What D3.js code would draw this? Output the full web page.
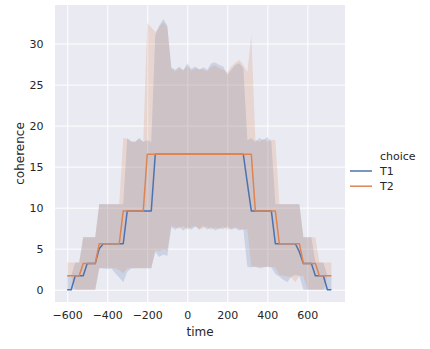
<!DOCTYPE html>
<html>
<head>
<meta charset="utf-8">
<script src="https://cdn.jsdelivr.net/npm/d3@7"></script>
<style>
  html, body { margin: 0; padding: 0; background: #ffffff; }
  svg { display: block; }
  text { font-family: "DejaVu Sans", sans-serif; fill: #262626; }
</style>
</head>
<body>
<svg id="chart" width="430" height="349"></svg>
<script>
// ---- data ----
const time = [-600,-580,-560,-540,-520,-500,-480,-460,-440,-420,-400,-380,-360,-340,-320,-300,-280,-260,-240,-220,-200,-180,-160,-140,-120,-100,-80,-60,-40,-20,0,20,40,60,80,100,120,140,160,180,200,220,240,260,280,300,320,340,360,380,400,420,440,460,480,500,520,540,560,580,600,620,640,660,680,700,720];

const t1Mean = [0,0,1.7,1.7,1.7,3.2,3.2,3.2,5.0,5.6,5.6,5.6,5.6,5.6,5.6,9.6,9.6,9.6,9.6,9.6,9.6,9.6,16.5,16.5,16.5,16.5,16.5,16.5,16.5,16.5,16.5,16.5,16.5,16.5,16.5,16.5,16.5,16.5,16.5,16.5,16.5,16.5,16.5,16.5,16.5,13.0,9.6,9.6,9.6,9.6,9.6,9.6,5.6,5.6,5.6,5.6,5.6,5.6,4.6,3.2,3.2,3.2,1.7,1.7,1.7,0,0];
const t1Lo = [0,0,0,0,0,0,0,0,2.6,2.6,2.5,2.6,2.0,1.5,0.9,2.2,2.6,2.6,2.6,2.6,2.6,2.6,4.6,4.0,4.3,4.1,7.6,7.3,7.7,7.2,7.6,7.3,7.7,7.4,7.8,7.3,7.6,7.2,7.5,7.4,7.7,7.3,7.5,7.2,7.4,2.8,2.7,2.8,2.6,2.7,2.8,2.7,1.9,1.6,1.2,0.9,1.6,1.8,1.7,0,0,0,0,0,0,0,0];
const t1Hi = [1.7,1.7,3.3,3.3,6.4,6.4,6.4,6.4,10.4,10.4,10.4,10.4,10.4,10.4,10.4,18.5,18.1,18.0,18.5,18.0,18.2,18.0,31.0,32.2,33.0,32.2,27.1,26.8,27.2,26.7,27.6,26.9,27.2,26.8,27.1,26.8,27.6,27.7,27.4,27.2,26.2,26.8,27.4,27.6,27.0,18.2,18.5,18.0,18.5,18.2,18.6,18.0,10.4,10.4,10.4,10.4,10.4,10.4,10.4,6.4,6.4,6.4,3.3,3.3,3.3,1.7,1.7];

const t2Mean = [1.7,1.7,1.7,1.7,3.2,3.2,3.2,3.2,5.6,5.6,5.6,5.6,5.6,5.6,9.6,9.6,9.6,9.6,9.6,9.6,16.5,16.5,16.5,16.5,16.5,16.5,16.5,16.5,16.5,16.5,16.5,16.5,16.5,16.5,16.5,16.5,16.5,16.5,16.5,16.5,16.5,16.5,16.5,16.5,16.5,16.5,16.5,9.6,9.6,9.6,9.6,9.6,9.6,5.6,5.6,5.6,5.6,5.6,5.6,3.2,3.2,3.2,3.2,1.7,1.7,1.7,1.7];
const t2Lo = [1.7,1.7,0,0,0,0,0,0,2.6,2.6,2.7,2.6,2.6,2.4,2.0,2.6,2.6,2.6,2.6,2.6,2.6,2.6,4.8,4.7,4.9,4.8,7.8,7.6,7.4,7.8,7.3,7.6,7.8,7.3,7.5,7.7,7.3,7.6,7.4,7.7,7.3,7.5,7.6,7.4,7.3,7.4,2.9,2.8,2.8,2.8,2.8,2.8,2.7,1.8,1.7,1.6,1.5,0.9,1.7,1.7,0,0,0,0,0,1.7,1.7];
const t2Hi = [3.3,3.3,3.3,3.3,6.4,6.4,6.4,6.4,10.4,10.4,10.4,10.4,10.4,10.4,18.5,18.4,18.0,18.1,18.4,18.0,32.5,32.0,31.4,32.0,32.6,32.0,26.9,26.6,27.0,26.8,27.3,26.7,27.0,26.9,26.8,26.6,27.2,27.3,27.0,26.8,26.5,27.2,27.7,28.0,27.4,26.5,31.0,18.3,18.0,18.4,18.1,18.3,18.2,10.4,10.4,10.4,10.4,10.4,10.4,6.4,6.4,6.4,6.4,3.3,3.3,3.3,3.3];

const seriesNames = ["T1", "T2"];
const seriesColors = ["#4c72b0", "#dd8452"];
const xTicks = [-600, -400, -200, 0, 200, 400, 600];
const yTicks = [0, 5, 10, 15, 20, 25, 30];
const xLabel = "time";
const yLabel = "coherence";
const legendTitle = "choice";

// ---- layout ----
const plot = { left: 55, right: 345, top: 5, bottom: 302 };
const svg = d3.select("#chart");

const x = d3.scaleLinear().domain([-661, 788]).range([plot.left, plot.right]);
const y = d3.scaleLinear().domain([-1.5, 34.7]).range([plot.bottom, plot.top]);

// background
svg.append("rect")
  .attr("x", plot.left).attr("y", plot.top)
  .attr("width", plot.right - plot.left).attr("height", plot.bottom - plot.top)
  .attr("fill", "#eaeaf2");

// grid via axes
const gx = svg.append("g").attr("transform", `translate(0,${plot.bottom})`)
  .call(d3.axisBottom(x).tickValues(xTicks).tickSize(-(plot.bottom - plot.top)).tickPadding(9)
    .tickFormat(d => d3.format("d")(d).replace("-", "\u2212")));
const gy = svg.append("g").attr("transform", `translate(${plot.left},0)`)
  .call(d3.axisLeft(y).tickValues(yTicks).tickSize(-(plot.right - plot.left)).tickPadding(11.5));
[gx, gy].forEach(g => {
  g.select(".domain").remove();
  g.selectAll(".tick line").attr("stroke", "#ffffff").attr("stroke-width", 1);
  g.selectAll(".tick text").attr("font-size", 11).attr("fill", "#262626")
    .style("font-family", "'DejaVu Sans', sans-serif");
});

// data rows
const series = [
  seriesNames[0] && time.map((t, i) => ({ t, m: t1Mean[i], lo: t1Lo[i], hi: t1Hi[i] })),
  time.map((t, i) => ({ t, m: t2Mean[i], lo: t2Lo[i], hi: t2Hi[i] }))
];

const clip = svg.append("clipPath").attr("id", "clip").append("rect")
  .attr("x", plot.left).attr("y", plot.top)
  .attr("width", plot.right - plot.left).attr("height", plot.bottom - plot.top);

const gData = svg.append("g").attr("clip-path", "url(#clip)");

const area = d3.area().x(d => x(d.t)).y0(d => y(d.lo)).y1(d => y(d.hi));
const line = d3.line().x(d => x(d.t)).y(d => y(d.m));

series.forEach((s, k) => {
  gData.append("path").attr("d", area(s))
    .attr("fill", seriesColors[k]).attr("fill-opacity", 0.2).attr("stroke", "none");
});
series.forEach((s, k) => {
  gData.append("path").attr("d", line(s))
    .attr("fill", "none").attr("stroke", seriesColors[k]).attr("stroke-width", 1.5)
    .attr("stroke-linejoin", "round").attr("stroke-linecap", "butt");
});

// axis labels
svg.append("text").attr("x", (plot.left + plot.right) / 2).attr("y", 336)
  .attr("text-anchor", "middle").attr("font-size", 12).text(xLabel);
svg.append("text")
  .attr("transform", `translate(24,${(plot.top + plot.bottom) / 2}) rotate(-90)`)
  .attr("text-anchor", "middle").attr("font-size", 12).text(yLabel);

// legend
const lg = svg.append("g");
lg.append("text").attr("x", 380).attr("y", 159.5).attr("font-size", 11).text(legendTitle);
seriesNames.forEach((name, k) => {
  const cy = 171 + k * 15.2;
  lg.append("line").attr("x1", 350).attr("x2", 372).attr("y1", cy).attr("y2", cy)
    .attr("stroke", seriesColors[k]).attr("stroke-width", 1.5);
  lg.append("text").attr("x", 380).attr("y", cy + 4).attr("font-size", 11).text(name);
});
</script>
</body>
</html>
